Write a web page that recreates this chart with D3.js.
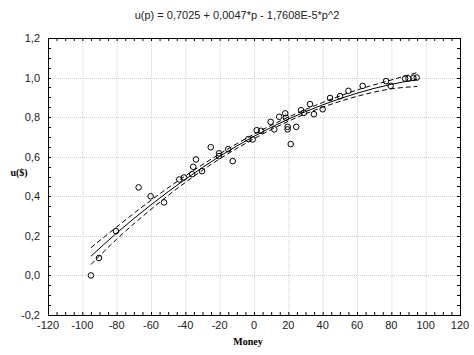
<!DOCTYPE html>
<html><head><meta charset="utf-8">
<script src="https://cdn.jsdelivr.net/npm/d3@7"></script>
<style>body{margin:0;background:#fff}svg{display:block}</style>
</head><body>
<svg id="c" width="474" height="355"></svg>
<script>
const titleText = "u(p) = 0,7025 + 0,0047*p - 1,7608E-5*p^2";
const xTicks = [-120,-100,-80,-60,-40,-20,0,20,40,60,80,100,120];
const yTicks = [-0.2,0,0.2,0.4,0.6,0.8,1.0,1.2];
const pointP = [-95,-90.3,-80.4,-67.2,-60.2,-52.4,-43.5,-40.8,-36,-35.4,-33.8,-30.3,-25.2,-20.4,-20.4,-15,-12.4,-3.3,-0.8,1.6,4.1,9.7,11.8,14.7,18.2,18.6,19.6,19.6,21.4,24.6,27.4,29.1,32.6,34.9,40,44.3,50.1,55,63.3,76.9,79.6,88,90,92.8,94.8];
const pointU = [0.00,0.088,0.224,0.445,0.40,0.369,0.485,0.495,0.512,0.549,0.586,0.527,0.648,0.617,0.603,0.638,0.578,0.689,0.687,0.734,0.731,0.776,0.738,0.802,0.819,0.797,0.751,0.738,0.664,0.751,0.835,0.822,0.866,0.815,0.840,0.897,0.906,0.933,0.958,0.982,0.958,0.995,0.995,0.998,1.0];
const fitP = [-95,-80,-60,-40,-20,0,20,40,60,80,95];
const fitU = [0.097,0.214,0.357,0.486,0.602,0.703,0.790,0.862,0.921,0.966,0.990];
const upperU = [0.140,0.245,0.380,0.503,0.614,0.714,0.800,0.874,0.937,0.988,1.025];
const lowerU = [0.055,0.183,0.334,0.470,0.589,0.691,0.779,0.850,0.905,0.943,0.955];

const svg = d3.select("#c");
const L=48, R=460, T=38, B=315;
const x = d3.scaleLinear().domain([-120,120]).range([L,R]);
const y = d3.scaleLinear().domain([-0.2,1.2]).range([B,T]);
const fmt = d => d3.format(".1f")(d).replace(".",",").replace("−","-");

// grid
svg.append("g").selectAll("line").data(xTicks.slice(1,-1)).join("line")
  .attr("x1",d=>x(d)+0.5).attr("x2",d=>x(d)+0.5).attr("y1",T).attr("y2",B)
  .attr("stroke","#cfcfcf").attr("stroke-dasharray","1,1");
svg.append("g").selectAll("line").data(yTicks.slice(1,-1)).join("line")
  .attr("y1",d=>Math.round(y(d))+0.5).attr("y2",d=>Math.round(y(d))+0.5).attr("x1",L).attr("x2",R)
  .attr("stroke","#cfcfcf").attr("stroke-dasharray","1,1");

// minor ticks inward
const xMinor = d3.range(-120,121,5), yMinor = d3.range(-0.2,1.2001,0.05);
const tk = svg.append("g").attr("stroke","#000");
xMinor.forEach(v=>{
  tk.append("line").attr("x1",x(v)+0.5).attr("x2",x(v)+0.5).attr("y1",B).attr("y2",B-3);
  tk.append("line").attr("x1",x(v)+0.5).attr("x2",x(v)+0.5).attr("y1",T).attr("y2",T+3);
});
yMinor.forEach(v=>{
  const yy=Math.round(y(v))+0.5;
  tk.append("line").attr("x1",L).attr("x2",L+3).attr("y1",yy).attr("y2",yy);
  tk.append("line").attr("x1",R).attr("x2",R-3).attr("y1",yy).attr("y2",yy);
});

// frame
svg.append("rect").attr("x",L+0.5).attr("y",T+0.5).attr("width",R-L).attr("height",B-T)
  .attr("fill","none").attr("stroke","#000");

// tick labels
svg.append("g").selectAll("text").data(xTicks).join("text")
  .attr("x",d=>x(d)).attr("y",B+14).attr("text-anchor","middle")
  .attr("font-family","Liberation Sans, Arial, sans-serif").attr("font-size",11).attr("fill","#222")
  .text(d=>String(d));
svg.append("g").selectAll("text").data(yTicks).join("text")
  .attr("x",L-8).attr("y",d=>y(d)+4).attr("text-anchor","end")
  .attr("font-family","Liberation Sans, Arial, sans-serif").attr("font-size",11).attr("fill","#222")
  .text(d=>fmt(d));

// title & axis labels
svg.append("text").attr("x",237).attr("y",19).attr("text-anchor","middle")
  .attr("font-family","Liberation Sans, Arial, sans-serif").attr("font-size",11).attr("fill","#222").text(titleText);
svg.append("text").attr("x",248).attr("y",345).attr("text-anchor","middle")
  .attr("font-family","Liberation Serif, Times New Roman, serif").attr("font-weight","bold").attr("font-size",10).text("Money");
svg.append("text").attr("x",19).attr("y",176).attr("text-anchor","middle")
  .attr("font-family","Liberation Serif, Times New Roman, serif").attr("font-weight","bold").attr("font-size",10).text("u($)");

// fit & bands
const line = d3.line().curve(d3.curveMonotoneX).x(d=>x(d[0])).y(d=>y(d[1]));
svg.append("path").attr("d",line(d3.zip(fitP,fitU))).attr("fill","none").attr("stroke","#000").attr("stroke-width",1);
svg.append("path").attr("d",line(d3.zip(fitP,upperU))).attr("fill","none").attr("stroke","#000").attr("stroke-dasharray","5,3");
svg.append("path").attr("d",line(d3.zip(fitP,lowerU))).attr("fill","none").attr("stroke","#000").attr("stroke-dasharray","5,3");

// points
svg.append("g").selectAll("circle").data(d3.zip(pointP,pointU)).join("circle")
  .attr("cx",d=>x(d[0])).attr("cy",d=>y(d[1])).attr("r",2.8)
  .attr("fill","none").attr("stroke","#000").attr("stroke-width",1);
</script>
</body></html>
